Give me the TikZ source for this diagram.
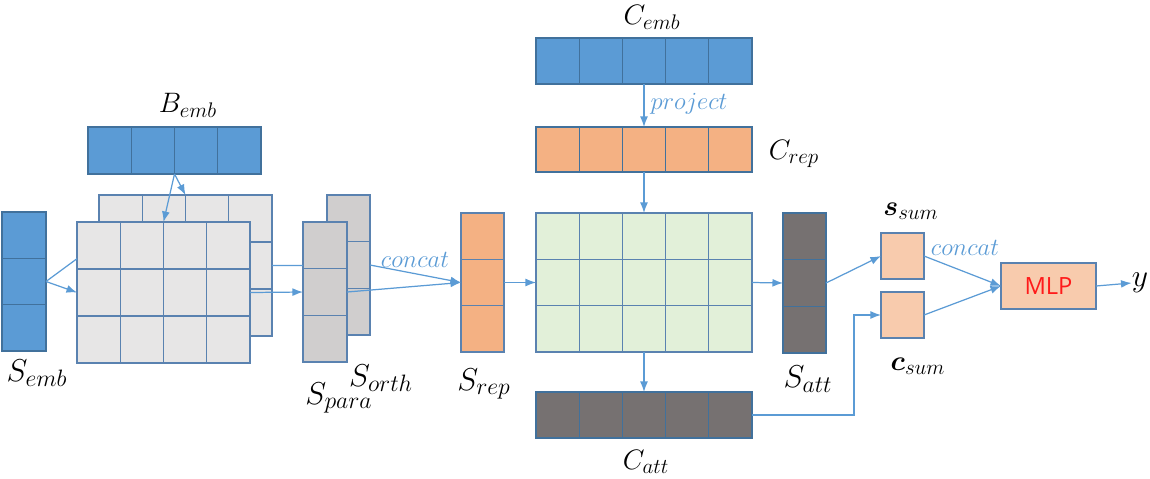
\RequirePackage{fix-cm}
\documentclass[tikz,border=0pt]{standalone}
\usepackage{bm}
\usepackage{fontspec}
\newfontfamily\mlpfont{Open Sans}
\DeclareMathSizes{18}{18}{13.5}{10}
\DeclareMathSizes{16}{16}{12}{9}
\DeclareMathSizes{14}{14}{10.5}{7.5}
\usetikzlibrary{arrows.meta,calc}
\definecolor{edge}{HTML}{41719C}
\definecolor{edgel}{HTML}{5A82B0}
\definecolor{bluef}{HTML}{5B9BD5}
\definecolor{grayf}{HTML}{E7E6E6}
\definecolor{midgray}{HTML}{D0CECE}
\definecolor{orangef}{HTML}{F4B183}
\definecolor{lorange}{HTML}{F8CBAD}
\definecolor{greenf}{HTML}{E2F0D9}
\definecolor{darkf}{HTML}{767171}
\definecolor{arrc}{HTML}{5B9BD5}
\definecolor{mlpred}{HTML}{FF1A1A}
\newcommand\vdiv[3][edge]{\foreach \f in {#3}{\draw[draw=#1, line width=0.8pt] ($(#2.north west)!\f!(#2.north east)$) -- ($(#2.south west)!\f!(#2.south east)$);}}
\newcommand\hdiv[3][edge]{\foreach \f in {#3}{\draw[draw=#1, line width=0.8pt] ($(#2.north west)!\f!(#2.south west)$) -- ($(#2.north east)!\f!(#2.south east)$);}}
\tikzset{
  box/.style={draw=edge, line width=0.8pt, inner sep=0pt, outer sep=0pt},
  arr/.style={draw=arrc, line width=0.7pt, -{Latex[length=6pt,width=4.5pt]}},
  ln/.style={draw=arrc, line width=0.7pt},
  biglab/.style={inner sep=0pt, font=\fontsize{18}{20}\selectfont},
  midlab/.style={inner sep=0pt, font=\fontsize{16}{18}\selectfont},
  bluelab/.style={inner sep=0pt, text=arrc, font=\fontsize{14}{16}\selectfont},
}
\begin{document}
\begin{tikzpicture}[x=0.02cm,y=-0.02cm]
\useasboundingbox (0,0) rectangle (1150,478);

% left part
\node[box, fill=bluef, minimum width=0.88cm, minimum height=2.78cm] (semb) at (24,281.5) {};
\hdiv{semb}{0.3333,0.6667}
\node[box, fill=bluef, minimum width=3.46cm, minimum height=0.94cm] (bemb) at (174.5,150.5) {};
\vdiv{bemb}{0.25,0.5,0.75}
\node[box, draw=edgel, fill=grayf, minimum width=3.46cm, minimum height=2.82cm] (gridb) at (185.5,265.5) {};
\vdiv[edgel]{gridb}{0.25,0.5,0.75}
\hdiv[edgel]{gridb}{0.3333,0.6667}
\node[box, draw=edgel, fill=grayf, minimum width=3.46cm, minimum height=2.82cm] (gridf) at (163.5,292.5) {};
\vdiv[edgel]{gridf}{0.25,0.5,0.75}
\hdiv[edgel]{gridf}{0.3333,0.6667}

\node[box, draw=edgel, fill=midgray, minimum width=0.86cm, minimum height=2.80cm] (sorth) at (348.5,265) {};
\hdiv[edgel]{sorth}{0.3333,0.6667}
\node[box, draw=edgel, fill=midgray, minimum width=0.88cm, minimum height=2.80cm] (spara) at (325,292) {};
\hdiv[edgel]{spara}{0.3333,0.6667}

\node[box, draw=edgel, fill=orangef, minimum width=0.86cm, minimum height=2.78cm] (srep) at (482.5,282.5) {};
\hdiv[edgel]{srep}{0.3333,0.6667}

% middle
\node[box, fill=bluef, minimum width=4.32cm, minimum height=0.92cm] (cemb) at (644,61) {};
\vdiv{cemb}{0.2,0.4,0.6,0.8}
\node[box, fill=orangef, minimum width=4.32cm, minimum height=0.90cm] (crep) at (644,149.5) {};
\vdiv{crep}{0.2,0.4,0.6,0.8}
\node[box, draw=edgel, fill=greenf, minimum width=4.32cm, minimum height=2.78cm] (green) at (644,282.5) {};
\vdiv[edgel]{green}{0.2,0.4,0.6,0.8}
\hdiv[edgel]{green}{0.3333,0.6667}
\node[box, fill=darkf, minimum width=4.32cm, minimum height=0.92cm] (catt) at (644,415) {};
\vdiv{catt}{0.2,0.4,0.6,0.8}

% right
\node[box, fill=darkf, minimum width=0.86cm, minimum height=2.80cm] (satt) at (804.5,283) {};
\hdiv{satt}{0.3333,0.6667}
\node[box, draw=edgel, fill=lorange, minimum width=0.86cm, minimum height=0.92cm] (ssum) at (902.5,256) {};
\node[box, draw=edgel, fill=lorange, minimum width=0.86cm, minimum height=0.92cm] (csum) at (902.5,315) {};
\node[box, draw=edgel, fill=lorange, minimum width=1.90cm, minimum height=0.92cm, text=mlpred, font=\mlpfont\fontsize{13.5}{15}\selectfont] (mlp) at (1048.5,286) {MLP};
\node[biglab] (y) at (1140,283) {$y$};

% labels
\node[midlab] (lbemb) at (188,105) {$B_{emb}$};
\node[biglab] (lsemb) at (37,373) {$S_{emb}$};
\node[biglab] (lsorth) at (381,378) {$S_{orth}$};
\node[biglab] (lspara) at (339,398) {$S_{para}$};
\node[biglab] (lsrep) at (484,384) {$S_{rep}$};
\node[midlab] (lcemb) at (652,17) {$C_{emb}$};
\node[midlab] (lcrep) at (794,154) {$C_{rep}$};
\node[midlab] (lcatt) at (646,462) {$C_{att}$};
\node[biglab] (lsatt) at (808,379) {$S_{att}$};
\node[midlab] (lssum) at (911,211) {$\bm{s}_{sum}$};
\node[midlab] (lcsum) at (918,366) {$\bm{c}_{sum}$};
\node[bluelab] (lconcat1) at (415,260) {$concat$};
\node[bluelab] (lproject) at (689,104) {$project$};
\node[bluelab] (lconcat2) at (965,248) {$concat$};

% connectors
\draw[arr] (bemb.south) -- (gridb.north);
\draw[arr] (bemb.south) -- (gridf.north);
\draw[ln] (semb.east) -- ($(gridf.north west)!0.26!(gridf.south west)$);
\draw[arr] (semb.east) -- (gridf.west);
\draw[ln] (gridb.east) -- ($(spara.north west)!0.31!(spara.south west)$);
\draw[arr] (gridf.east) -- (spara.west);
\draw[arr] (sorth.east) -- (srep.west);
\draw[arr] (spara.east) -- (srep.west);
\draw[arr] (srep.east) -- (green.west);
\draw[arr] (cemb.south) -- (crep.north);
\draw[arr] (crep.south) -- (green.north);
\draw[arr] (green.south) -- (catt.north);
\draw[arr] (green.east) -- (satt.west);
\draw[arr] (satt.east) -- (ssum.west);
\draw[arr] (catt.east) -| ([xshift=-0.54cm]csum.west) -- (csum.west);
\draw[arr] (ssum.east) -- (mlp.west);
\draw[arr] (csum.east) -- (mlp.west);
\draw[arr] (mlp.east) -- (y.west);
\end{tikzpicture}
\end{document}
